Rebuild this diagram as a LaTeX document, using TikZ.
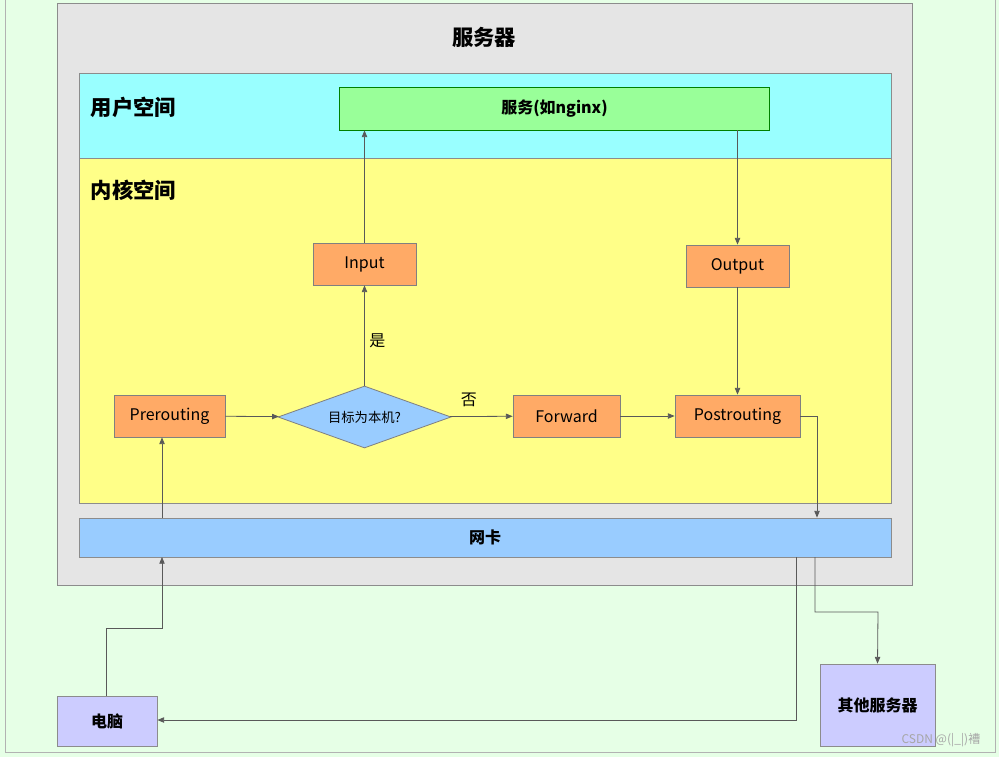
\documentclass[tikz,border=0pt]{standalone}
\usepackage{fontspec}
\setmainfont{Noto Sans CJK SC}
\usetikzlibrary{shapes.geometric,arrows.meta}
\definecolor{cyb}{HTML}{99FFFF}
\definecolor{yel}{HTML}{FFFF88}
\definecolor{nicb}{HTML}{99CCFF}
\definecolor{diab}{HTML}{99CCFF}
\definecolor{grn}{HTML}{99FF99}
\definecolor{org}{HTML}{FFAA66}
\definecolor{bgg}{HTML}{E6FFE6}
\definecolor{pur}{HTML}{CCCCFF}
\begin{document}
\begin{tikzpicture}[x=0.75pt,y=-0.75pt,
  ln/.style={draw=black!65,line width=0.6pt},
  ar/.style={ln,-{Triangle[length=5pt,width=4pt]}},
  box/.style={draw=black!45,line width=0.6pt,inner sep=0},
  org/.style={box,fill=org,draw=black!50,font=\fontsize{12}{14}\selectfont},
  bold/.style={font=\bfseries}]
\useasboundingbox (0,0) rectangle (999,757);
\fill[bgg] (0,0) rectangle (999,757);
\draw[black!30] (5,0) -- (5,752) -- (995,752) -- (995,0);
\draw[box,fill=black!10] (57,3) rectangle (912,585);
\node[font=\bfseries\fontsize{16}{18}\selectfont] (srv) at (484,37) {服务器};
\draw[box,fill=cyb] (79,73) rectangle (891,158);
\draw[box,fill=yel] (79,158) rectangle (891,503);
\node[anchor=west,font=\bfseries\fontsize{16}{18}\selectfont] (us) at (86,107) {用户空间};
\node[anchor=west,font=\bfseries\fontsize{16}{18}\selectfont] (ks) at (86,190) {内核空间};
\node[box,fill=grn,draw=green!50!black,minimum width=322.5pt,minimum height=32.25pt,font=\bfseries\fontsize{12}{14}\selectfont] (svc) at (554.5,108.5) {服务(如nginx)};
\node[box,fill=nicb,draw=black!45,minimum width=609pt,minimum height=29.25pt,font=\bfseries\fontsize{12}{14}\selectfont] (nic) at (485,537.5) {网卡};
\node[org,minimum width=77.25pt,minimum height=31.5pt] (in) at (364.5,264) {Input};
\node[org,minimum width=77.25pt,minimum height=31.5pt] (out) at (737.5,266) {Output};
\node[org,minimum width=83.25pt,minimum height=31.5pt] (pre) at (169.5,416) {Prerouting};
\node[org,minimum width=80.25pt,minimum height=31.5pt] (fw) at (566.5,416) {Forward};
\node[org,minimum width=93.75pt,minimum height=31.5pt] (post) at (737.5,416) {Postrouting};
\node[diamond,box,fill=diab,draw=black!50,minimum width=129.75pt,minimum height=46.5pt,aspect=2.8,font=\fontsize{10}{12}\selectfont] (dia) at (364.5,417) {目标为本机?};
\node[box,fill=pur,minimum width=75pt,minimum height=37.5pt,font=\bfseries\fontsize{12}{14}\selectfont] (pc) at (107,721) {电脑};
\node[box,fill=pur,minimum width=86.25pt,minimum height=61.5pt,font=\bfseries\fontsize{12}{14}\selectfont] (oth) at (877.5,705) {其他服务器};
\draw[ar] (pre) -- (dia);
\draw[ar] (dia) -- node[right,pos=0.45,font=\fontsize{12}{14}\selectfont]{是} (in);
\draw[ar] (in) -- (in |- svc.south);
\draw[ar] (svc.south -| out) -- (out);
\draw[ar] (out) -- (post);
\draw[ar] (dia) -- node[above,pos=0.3,font=\fontsize{12}{14}\selectfont,yshift=4pt]{否} (fw);
\draw[ar] (fw) -- (post);
\coordinate (p1) at (817,416);
\draw[ar] (post.east) -- (p1) -- (p1 |- nic.north);
\coordinate (n1) at (815,557);
\draw[ar] (n1) -- (815,612) -- (878,612) -- (oth.north);
\coordinate (n2) at (796,557);
\draw[ar] (n2) -- (796,720) -- (pc.east |- 0,720);
\coordinate (n3) at (162,557);
\draw[ar] (pc.north -| 106,0) -- (106,628) -- (162,628) -- (n3);
\draw[ar] (162,518) -- (pre.south -| 162,0);
\node[anchor=east,text=black!35,font=\fontsize{9}{10}\selectfont] (wm) at (985,740) {CSDN @(\textbar\_\textbar)褿};
\end{tikzpicture}
\end{document}
